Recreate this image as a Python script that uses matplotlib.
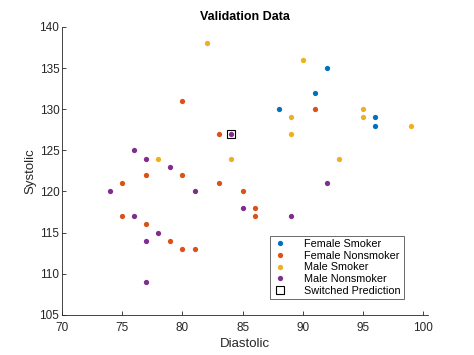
import matplotlib
matplotlib.use('Agg')
import matplotlib.pyplot as plt

# data (diastolic, systolic)
female_smoker_x = [92, 91, 88, 96, 96]
female_smoker_y = [135, 132, 130, 129, 128]
female_nonsmoker_x = [80, 83, 91, 77, 80, 75, 83, 85, 86, 86, 75, 77, 79, 80, 81]
female_nonsmoker_y = [131, 127, 130, 122, 122, 121, 121, 120, 118, 117, 117, 116, 114, 113, 113]
male_smoker_x = [82, 90, 95, 89, 95, 99, 89, 78, 84, 93]
male_smoker_y = [138, 136, 130, 129, 129, 128, 127, 124, 124, 124]
male_nonsmoker_x = [76, 77, 79, 74, 81, 92, 85, 76, 89, 78, 77, 77, 84]
male_nonsmoker_y = [125, 124, 123, 120, 120, 121, 118, 117, 117, 115, 114, 109, 127]
switched_x = [84]
switched_y = [127]

groups = ['Female Smoker', 'Female Nonsmoker', 'Male Smoker', 'Male Nonsmoker']
colors = ['#0072BD', '#D95319', '#EDB120', '#7E2F8E']

plt.rcParams['font.family'] = ['Arial', 'Liberation Sans', 'DejaVu Sans']

fig = plt.figure(figsize=(4.74, 3.55), dpi=100)
ax = fig.add_axes([0.131, 0.113, 0.772, 0.811])

xs = [female_smoker_x, female_nonsmoker_x, male_smoker_x, male_nonsmoker_x]
ys = [female_smoker_y, female_nonsmoker_y, male_smoker_y, male_nonsmoker_y]
for x, y, c, g in zip(xs, ys, colors, groups):
    ax.plot(x, y, linestyle='none', marker='o', markersize=3.8, color=c,
            markeredgewidth=0, label=g)
ax.plot(switched_x, switched_y, linestyle='none', marker='s', markersize=6,
        markerfacecolor='none', markeredgecolor='black', markeredgewidth=0.8,
        label='Switched Prediction')

ax.set_xlim(70, 100.4)
ax.set_ylim(105, 140)
ax.set_xticks(range(70, 101, 5))
ax.set_yticks(range(105, 141, 5))
ax.spines['top'].set_visible(False)
ax.spines['right'].set_visible(False)
for s in ['left', 'bottom']:
    ax.spines[s].set_color('#262626')
    ax.spines[s].set_linewidth(0.6)
ax.tick_params(direction='in', length=3, width=0.6, colors='#262626',
               labelsize=8.5, pad=2)
ax.tick_params(axis='x', pad=5)

ax.set_xlabel('Diastolic', fontsize=9.5, color='#262626', labelpad=3)
ax.set_ylabel('Systolic', fontsize=9.5, color='#262626', labelpad=2)
ax.set_title('Validation Data', fontsize=9, fontweight='bold', pad=5)

leg = ax.legend(loc='lower right', bbox_to_anchor=(0.852, 0.158),
                bbox_transform=fig.transFigure, fontsize=7.8, frameon=True,
                fancybox=False, handlelength=1.2, handletextpad=1.6,
                labelspacing=0.15, borderpad=0.3, borderaxespad=0)
leg.get_frame().set_edgecolor('#262626')
leg.get_frame().set_linewidth(0.6)

fig.savefig('out.png', dpi=100)
